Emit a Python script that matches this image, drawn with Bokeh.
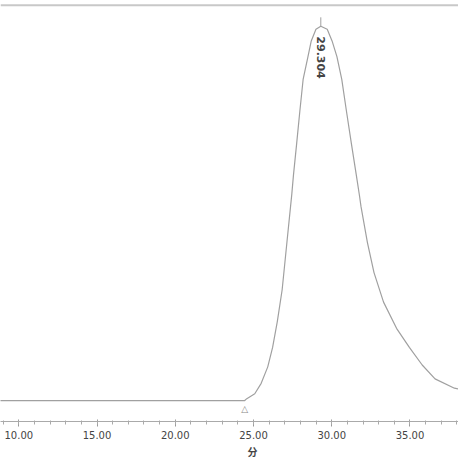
from math import pi

from bokeh.core.properties import value
from bokeh.embed import file_html
from bokeh.models import PrintfTickFormatter, Range1d, SingleIntervalTicker, Span, Title
from bokeh.plotting import figure
from bokeh.resources import INLINE

# chromatogram trace (time in min, detector response, peak = 1)
time_min = [8.80, 24.44, 24.57, 25.08, 25.49, 25.91, 26.22, 26.52, 26.83, 27.14,
            27.45, 27.55, 27.76, 27.96, 28.17, 28.48, 28.69, 28.99, 29.30, 29.71,
            30.02, 30.33, 30.64, 30.94, 31.25, 31.56, 31.77, 31.87, 32.28, 32.70,
            33.31, 34.14, 34.96, 35.78, 36.60, 37.84, 38.20]
signal = [0.000, 0.000, 0.005, 0.018, 0.046, 0.090, 0.142, 0.211, 0.296, 0.425,
          0.553, 0.601, 0.688, 0.773, 0.858, 0.919, 0.961, 0.992, 1.000, 0.992,
          0.961, 0.919, 0.858, 0.773, 0.688, 0.605, 0.548, 0.518, 0.422, 0.342,
          0.263, 0.193, 0.142, 0.095, 0.058, 0.033, 0.030]

peak_time = 29.30
peak_height = 1.00
peak_label = "29.304"
peak_start = 24.44
x_title = "分"

ink = "#444444"
trace = "#a0a0a0"

y_lo, y_hi = -0.056, 1.069

p = figure(width=458, height=458, output_backend="svg", toolbar_location=None,
           x_range=Range1d(8.83, 38.10), y_range=Range1d(y_lo, y_hi),
           min_border_left=0, min_border_right=0, min_border_top=0, min_border_bottom=36)
p.yaxis.visible = False
p.grid.visible = False
p.outline_line_color = None
p.background_fill_color = "white"

# top border line of the chromatogram window
p.add_layout(Span(location=1.056, dimension="width", line_color="#c8c8c8", line_width=2))

p.line(time_min, signal, line_color=trace, line_width=1.2)

# peak apex mark and retention time label
p.ray(x=[peak_time], y=[peak_height], length=9, length_units="screen", angle=pi / 2,
      line_color=trace, line_width=1)
p.text(x=[peak_time], y=[peak_height], text=[peak_label], angle=-pi / 2,
       text_align="left", text_baseline="middle", y_offset=10,
       text_font=value("DejaVu Sans"), text_font_size="11px", text_color=ink,
       text_font_style="bold")

# integration start marker
p.text(x=[peak_start], y=[0], text=["△"], text_align="center", text_baseline="top",
       y_offset=3, text_font=value("DejaVu Sans"), text_font_size="9px", text_color="#888888")

ax = p.xaxis[0]
ax.ticker = SingleIntervalTicker(interval=5, num_minor_ticks=5)
ax.formatter = PrintfTickFormatter(format="%.2f")
ax.axis_line_color = "#aaaaaa"
ax.major_tick_line_color = "#999999"
ax.minor_tick_line_color = "#aaaaaa"
ax.major_tick_in = 2
ax.major_tick_out = 5
ax.minor_tick_in = 1
ax.minor_tick_out = 3
ax.major_label_standoff = 4
ax.major_label_text_font = "DejaVu Sans"
ax.major_label_text_font_size = "10px"
ax.major_label_text_color = ink

# axis title sits under 25.00 in the original, not centred on the window
p.add_layout(Title(text=x_title, align="left", offset=247, standoff=0,
                   text_font="Noto Sans CJK SC", text_font_size="10px",
                   text_color=ink, text_font_style="bold"), "below")

open("out.html", "w").write(file_html(p, INLINE))
